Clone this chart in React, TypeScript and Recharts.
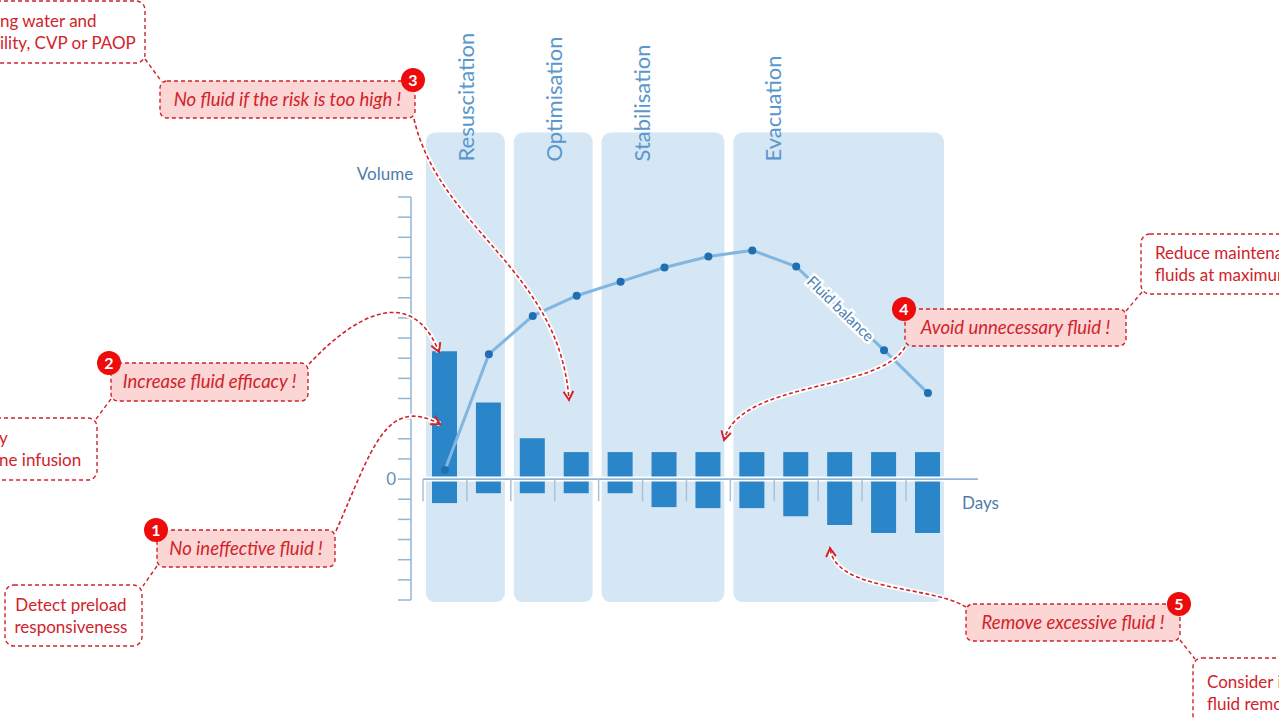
import React from "react";
import { Bar, ComposedChart, Line, ReferenceArea, ReferenceLine, XAxis, YAxis } from "recharts";

// values, in volume units (one tick = 1)
const days = [1, 2, 3, 4, 5, 6, 7, 8, 9, 10, 11, 12];
const fluidIn = [6.35, 3.8, 2.03, 1.34, 1.34, 1.34, 1.34, 1.34, 1.34, 1.34, 1.34, 1.34];
const fluidOut = [-1.19, -0.7, -0.7, -0.7, -0.7, -1.39, -1.44, -1.44, -1.84, -2.28, -2.68, -2.68];
const fluidBalance = [0.45, 6.2, 8.1, 9.1, 9.8, 10.5, 11.05, 11.35, 10.55, 8.45, 6.4, 4.27];

const volumeTicks = [-6, -5, -4, -3, -2, -1, 0, 1, 2, 3, 4, 5, 6, 7, 8, 9, 10, 11, 12, 13, 14];
const dayTicks = [0.5, 1.5, 2.5, 3.5, 4.5, 5.5, 6.5, 7.5, 8.5, 9.5, 10.5, 11.5];

const phaseNames = ["Resuscitation", "Optimisation", "Stabilisation", "Evacuation"];
const phaseStart = [0.5, 2.5, 4.5, 7.5];
const phaseEnd = [2.5, 4.5, 7.5, 12.5];
const BALANCE_LABEL_INDEX = 9;

const data = days.map((d, i) => ({
  day: d,
  fluidIn: fluidIn[i],
  fluidOut: fluidOut[i],
  balance: fluidBalance[i]
}));

const FONT = "Lato, 'Open Sans', sans-serif";
const RED = "#d0232a";
const AXIS = "#93b6d4";

const VolumeTick = (p: any) =>
  p.payload.value === 0 ? (
    <text x={p.x} y={p.y} dy={6} textAnchor="end" fontSize={17} fill="#6a8fb3" fontFamily={FONT}>
      0
    </text>
  ) : (
    <g />
  );

const phaseShape = (name: string) => (p: any) => (
  <g>
    <rect x={p.x + 3} y={p.y} width={p.width - 9} height={p.height} rx={9} fill="#d5e6f4" />
    <text
      transform={`translate(${p.x + 51},${p.y + 29}) rotate(-90)`}
      fontSize={22}
      fill="#5a97cc"
      fontFamily={FONT}
    >
      {name}
    </text>
  </g>
);

const BalanceDot = (p: any) => {
  if (p.index === BALANCE_LABEL_INDEX) {
    return (
      <text
        key="lbl"
        transform={`translate(${p.cx},${p.cy}) rotate(44)`}
        textAnchor="middle"
        dy={5}
        fontSize={15}
        fill="#4a80b4"
        stroke="#ffffff"
        strokeWidth={5}
        paintOrder="stroke"
        fontFamily={FONT}
      >
        Fluid balance
      </text>
    );
  }
  return <circle key={p.index} cx={p.cx} cy={p.cy} r={4} fill="#1f6fb2" />;
};

type Note = { x: number; y: number; w: number; h: number; lines: string[]; tx: number; anchor: "start" | "middle" };
const notes: Note[] = [
  { x: -12, y: 1, w: 157, h: 62, lines: ["ng water and", "ility, CVP or PAOP"], tx: 0, anchor: "start" },
  { x: -12, y: 418, w: 109, h: 62, lines: ["y", "ne infusion"], tx: -1, anchor: "start" },
  { x: 5, y: 585, w: 137, h: 61, lines: ["Detect preload", "responsiveness"], tx: 71, anchor: "middle" },
  { x: 1141, y: 234, w: 160, h: 60, lines: ["Reduce maintenance", "fluids at maximum"], tx: 1155, anchor: "start" },
  { x: 1193, y: 658, w: 110, h: 70, lines: ["Consider indication", "fluid removal"], tx: 1207, anchor: "start" }
];

type Action = { x: number; y: number; w: number; h: number; text: string; n: string; bx: number; by: number };
const actions: Action[] = [
  { x: 160, y: 81, w: 255, h: 37, text: "No fluid if the risk is too high !", n: "3", bx: 413, by: 80 },
  { x: 111, y: 363, w: 197, h: 38, text: "Increase fluid efficacy !", n: "2", bx: 109, by: 363 },
  { x: 157, y: 530, w: 178, h: 37, text: "No ineffective fluid !", n: "1", bx: 156, by: 530 },
  { x: 905, y: 309, w: 221, h: 37, text: "Avoid unnecessary fluid !", n: "4", bx: 904, by: 309 },
  { x: 966, y: 604, w: 214, h: 37, text: "Remove excessive fluid !", n: "5", bx: 1179, by: 604 }
];

const connectors = [
  "M145,59 L162,82",
  "M111,399 L96,419",
  "M157,566 L143,586",
  "M1126,311 L1142,292",
  "M1180,640 L1195,659"
];

const arrows = [
  "M414,119 C440,230 560,270 569,400",
  "M309,364 C350,320 410,280 439,352",
  "M336,531 C372,450 385,395 440,424",
  "M905,347 C880,392 740,380 724,440",
  "M966,607 C930,585 835,592 830,548"
];

const Overlay = () => (
  <svg width={1279} height={720} style={{ position: "absolute", left: 0, top: 0, pointerEvents: "none" }}>
    <defs>
      <marker
        id="head"
        viewBox="0 0 12 12"
        refX={10}
        refY={6}
        markerWidth={13}
        markerHeight={13}
        markerUnits="userSpaceOnUse"
        orient="auto"
      >
        <path d="M2,1.5 L10,6 L2,10.5" fill="none" stroke={RED} strokeWidth={1.8} />
      </marker>
    </defs>

    <text x={385} y={180} textAnchor="middle" fontSize={17} fill="#4f7cab" fontFamily={FONT}>
      Volume
    </text>
    <text x={962} y={509} fontSize={17} fill="#4f7cab" fontFamily={FONT}>
      Days
    </text>

    {arrows.map((d, i) => (
      <g key={i}>
        <path d={d} fill="none" stroke="#ffffff" strokeWidth={5} />
        <path d={d} fill="none" stroke={RED} strokeWidth={1.6} strokeDasharray="4 2.5" markerEnd="url(#head)" />
      </g>
    ))}

    {connectors.map((d, i) => (
      <path key={i} d={d} stroke={RED} strokeWidth={1.4} strokeDasharray="4 3" />
    ))}

    {notes.map((n, i) => (
      <g key={i}>
        <rect x={n.x} y={n.y} width={n.w} height={n.h} rx={9} fill="#ffffff" stroke={RED} strokeWidth={1.4} strokeDasharray="4 3" />
        {n.lines.map((l, j) => (
          <text
            key={j}
            x={n.tx}
            y={n.y + n.h / 2 - 5 + j * 22}
            textAnchor={n.anchor}
            fontSize={17}
            fill={RED}
            fontFamily={FONT}
          >
            {l}
          </text>
        ))}
      </g>
    ))}

    {actions.map((a, i) => (
      <g key={i}>
        <rect x={a.x} y={a.y} width={a.w} height={a.h} rx={7} fill="#fcd5d5" stroke={RED} strokeWidth={1.4} strokeDasharray="4 3" />
        <text
          x={a.x + a.w / 2}
          y={a.y + a.h / 2 + 6}
          textAnchor="middle"
          fontSize={18.5}
          fontStyle="italic"
          fill={RED}
          fontFamily={FONT}
        >
          {a.text}
        </text>
        <circle cx={a.bx} cy={a.by} r={12} fill="#ee0b0b" />
        <text x={a.bx} y={a.by + 6} textAnchor="middle" fontSize={16} fontWeight="bold" fill="#ffffff" fontFamily={FONT}>
          {a.n}
        </text>
      </g>
    ))}
  </svg>
);

export default function App() {
  return (
    <div style={{ position: "absolute", left: 0, top: 0, width: 1279, height: 720, background: "#ffffff", overflow: "hidden" }}>
      <ComposedChart
        width={1279}
        height={720}
        data={data}
        stackOffset="sign"
        margin={{ top: 197, right: 301, bottom: 120, left: 0 }}
      >
        <XAxis type="number" dataKey="day" domain={[0.5, 13.14]} hide height={0} padding={{ left: 12, right: 0 }} allowDataOverflow />
        <YAxis
          type="number"
          domain={[-6, 14]}
          ticks={volumeTicks}
          interval={0}
          width={411}
          tickSize={13}
          tick={<VolumeTick />}
          axisLine={{ stroke: AXIS, strokeWidth: 1.5 }}
          tickLine={{ stroke: AXIS, strokeWidth: 1.5 }}
          allowDataOverflow
        />
        {phaseNames.map((name, i) => (
          <ReferenceArea
            key={name}
            x1={phaseStart[i]}
            x2={phaseEnd[i]}
            y1={-6.1}
            y2={17.2}
            ifOverflow="visible"
            shape={phaseShape(name)}
          />
        ))}
        <Bar dataKey="fluidIn" stackId="v" barSize={25} fill="#2a86c8" isAnimationActive={false} />
        <Bar dataKey="fluidOut" stackId="v" barSize={25} fill="#2a86c8" isAnimationActive={false} />
        <ReferenceLine
          segment={[{ x: 0.5, y: 0 }, { x: 13.14, y: 0 }]}
          stroke="#ffffff"
          strokeWidth={5}
          ifOverflow="visible"
        />
        <ReferenceLine
          segment={[{ x: 0.5, y: 0 }, { x: 13.14, y: 0 }]}
          stroke={AXIS}
          strokeWidth={1.8}
          ifOverflow="visible"
        />
        {dayTicks.map((t) => (
          <ReferenceLine
            key={t}
            segment={[{ x: t, y: 0 }, { x: t, y: -1.1 }]}
            stroke="#a9c2d8"
            strokeWidth={1.5}
            ifOverflow="visible"
          />
        ))}
        <Line
          type="linear"
          dataKey="balance"
          stroke="#80b6e0"
          strokeWidth={3}
          dot={BalanceDot}
          activeDot={false}
          isAnimationActive={false}
        />
      </ComposedChart>
      <Overlay />
    </div>
  );
}
